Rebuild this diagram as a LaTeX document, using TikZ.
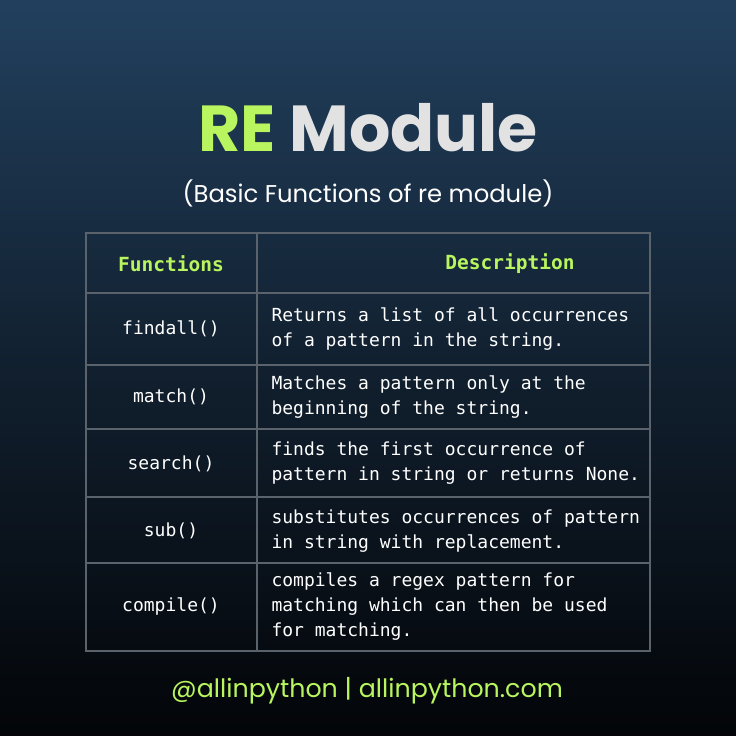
\documentclass[tikz,border=0pt]{standalone}
\usepackage{fontspec}
\setmainfont{Poppins}
\newfontfamily\monof{DejaVu Sans Mono}
\definecolor{lime}{HTML}{B8F55E}
\definecolor{titlegray}{HTML}{E2E2E2}
\definecolor{gridc}{HTML}{5A626B}
\definecolor{bgtop}{HTML}{22405E}
\definecolor{bgbot}{HTML}{030508}
\begin{document}
\begin{tikzpicture}[x=1pt,y=-1pt,
  cell/.style={text=white,font=\monof\fontsize{18}{25}\selectfont,align=left,anchor=west},
  fn/.style={text=white,font=\monof\fontsize{18}{25}\selectfont,anchor=center},
  hdr/.style={text=lime,font=\monof\bfseries\fontsize{19.5}{25}\selectfont,anchor=center},
  grid/.style={draw=gridc,line width=2pt}]
\useasboundingbox (0,0) rectangle (736,736);
\shade[top color=bgtop,bottom color=bgbot,middle color=bgtop!45!bgbot] (0,0) rectangle (736,736);
\node (title) at (368,128) {\fontsize{65}{72}\selectfont\bfseries\textcolor{lime}{RE} \textcolor{titlegray}{Module}};
\node (sub) at (368,193) {\fontsize{24.3}{28}\selectfont\color{white}(Basic Functions of re module)};
% table
\draw[grid] (86,233) rectangle (650,651);
\draw[grid] (257,233) -- (257,651);
\foreach \y in {293,365,429,497,563} \draw[grid] (86,\y) -- (650,\y);
\node[hdr] (h1) at (171,264) {Functions};
\node[hdr] (h2) at (510,264) {Description};
\node[fn] (f1) at (171,329) {findall()};
\node[cell] (d1) at (268,329) {Returns a list of all occurrences\\of a pattern in the string.};
\node[fn] (f2) at (171,397) {match()};
\node[cell] (d2) at (268,397) {Matches a pattern only at the\\beginning of the string.};
\node[fn] (f3) at (171,464) {search()};
\node[cell] (d3) at (268,463) {finds the first occurrence of\\pattern in string or returns None.};
\node[fn] (f4) at (171,531) {sub()};
\node[cell] (d4) at (268,531) {substitutes occurrences of pattern\\in string with replacement.};
\node[fn] (f5) at (171,606) {compile()};
\node[cell] (d5) at (268,607) {compiles a regex pattern for\\matching which can then be used\\for matching.};
\node (foot) at (367,691) {\fontsize{25.3}{28}\selectfont\color{lime}@allinpython | allinpython.com};
\end{tikzpicture}
\end{document}
